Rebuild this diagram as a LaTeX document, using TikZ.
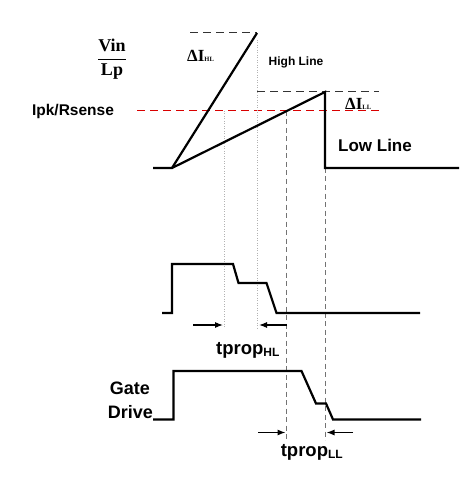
\documentclass[tikz,border=0pt]{standalone}
\usepackage{fontspec}
\usepackage{amsmath}
\setmainfont{Liberation Serif}
\setsansfont{Liberation Sans}
\usetikzlibrary{arrows.meta}
\tikzset{
  wave/.style={line width=2.2pt, line join=miter},
  reddash/.style={red!85!black, line width=1pt, dash pattern=on 8pt off 5pt},
  blackdash/.style={black!80, line width=1pt, dash pattern=on 8pt off 5pt},
  greydash/.style={black!55, line width=0.9pt, dash pattern=on 5pt off 3.5pt},
  greydot/.style={black!30, line width=0.9pt, dash pattern=on 1pt off 1.5pt},
  tarrow/.style={line width=1.1pt, -{Latex[length=8pt,width=6pt]}},
  lbl/.style={font=\sffamily\bfseries, inner sep=0pt},
}
\begin{document}
\begin{tikzpicture}[x=1pt,y=-1pt]
\useasboundingbox (0,0) rectangle (474,486);
% ---- top current waveforms
\coordinate (b0) at (153,168);
\coordinate (s) at (172,168);
\coordinate (hl) at (257,33);
\coordinate (ll) at (325,92);
\coordinate (llb) at (325,168);
\coordinate (le) at (459,168);
% reference lines
\draw[reddash] (137,111) -- (381,111);
\draw[blackdash] (190,33) -- (hl);
\draw[blackdash] (257,92) -- (379,92);
% verticals
\draw[greydot] (224.5,111) -- (224.5,328);
\draw[greydot] (257.5,40) -- (257.5,328);
\draw[greydash] (286.5,111) -- (286.5,440);
\draw[greydash] (325,168) -- (325,440);
% waveforms
\draw[wave] (b0) -- (s) -- (hl);
\draw[wave] (s) -- (ll) -- (llb) -- (le);
% middle waveform
\draw[wave] (162,313) -- (172,313) -- (172,264) -- (233,264) -- (238.5,283) -- (266.5,283) -- (276.5,313) -- (420,313);
% gate drive
\draw[wave] (153,419.5) -- (173.5,419.5) -- (173.5,371) -- (301.5,371) -- (316,403.5) -- (326,403.5) -- (333,419.5) -- (421,419.5);
% arrows
\coordinate (a1s) at (193,325); \coordinate (a1e) at (223,325);
\coordinate (a2s) at (287,325); \coordinate (a2e) at (259,325);
\draw[tarrow] (a1s) -- (a1e);
\draw[tarrow] (a2s) -- (a2e);
\coordinate (a3s) at (258,432.5); \coordinate (a3e) at (285.5,432.5);
\coordinate (a4s) at (353,432.5); \coordinate (a4e) at (326.5,432.5);
\draw[tarrow] (a3s) -- (a3e);
\draw[tarrow] (a4s) -- (a4e);
% labels
\node[inner sep=0pt] (vin) at (112,59) {\fontsize{18}{20}\selectfont $\dfrac{\textbf{Vin}}{\textbf{Lp}}$};
\node[lbl, font=\sffamily\bfseries\fontsize{15.5}{17}\selectfont] (ipk) at (73,111) {Ipk/Rsense};
\node[inner sep=0pt, anchor=base west] (dhl) at (187,62) {\fontsize{17}{18}\selectfont\bfseries ΔI{\fontsize{6.5}{7}\selectfont HL}};
\node[inner sep=0pt, anchor=base west] (dll) at (345,110) {\fontsize{17}{18}\selectfont\bfseries ΔI{\fontsize{6.5}{7}\selectfont LL}};
\node[lbl, font=\sffamily\bfseries\fontsize{12}{14}\selectfont] (hlt) at (296,62) {High Line};
\node[lbl, font=\sffamily\bfseries\fontsize{17}{18}\selectfont] (llt) at (375,145) {Low Line};
\node[lbl, font=\sffamily\bfseries\fontsize{18}{20}\selectfont, anchor=base east] (gate) at (150,394) {Gate};
\node[lbl, font=\sffamily\bfseries\fontsize{18}{20}\selectfont, anchor=base east] (drive) at (153,418) {Drive};
\node[lbl, font=\sffamily\bfseries\fontsize{18.5}{20}\selectfont, anchor=base] (thl) at (248,354) {tprop\textsubscript{\fontsize{12}{13}\selectfont HL}};
\node[lbl, font=\sffamily\bfseries\fontsize{18.5}{20}\selectfont, anchor=base] (tll) at (312,456) {tprop\textsubscript{\fontsize{12}{13}\selectfont LL}};
\end{tikzpicture}
\end{document}
